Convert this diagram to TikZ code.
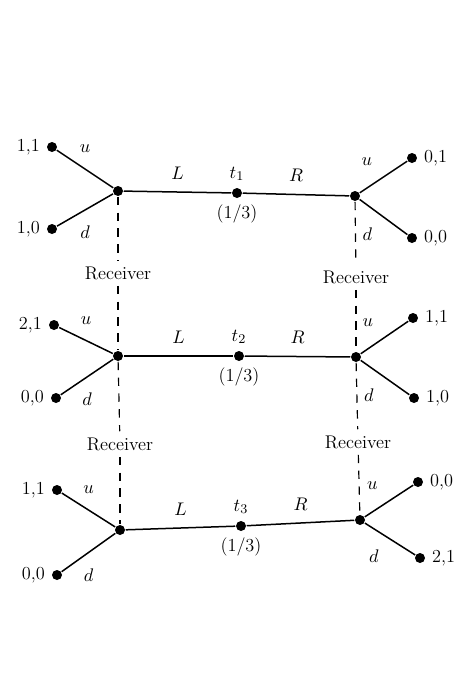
\documentclass[tikz,border=0pt]{standalone}
\begin{document}
\begin{tikzpicture}[x=0.6pt,y=-0.6pt,line width=0.9pt,
    font=\fontsize{11}{13}\selectfont,
    dot/.style={circle,fill,inner sep=0pt,minimum size=6pt},
    info/.style={dashed,line width=0.7pt,dash pattern=on 5pt off 4.5pt}]
  \useasboundingbox (0,0) rectangle (465,700);
  \draw
    (118,191) node[dot] (l1){}
    (237,193) node[dot,label=above:{$t_1$},label=below:{(1/3)}] (t1){}
    (355,196) node[dot] (r1){}
    (118,356) node[dot] (l2){}
    (239,356) node[dot,label=above:{$t_2$},label=below:{(1/3)}] (t2){}
    (356,357) node[dot] (r2){}
    (120,530) node[dot] (l3){}
    (241,526) node[dot,label=above:{$t_3$},label=below:{(1/3)}] (t3){}
    (360,520) node[dot] (r3){};
  \draw
    (52,147) node[dot,label=left:{1,1}] (l1u){}
    (52,229) node[dot,label=left:{1,0}] (l1d){}
    (412,158) node[dot,label=right:{0,1}] (r1u){}
    (412,238) node[dot,label=right:{0,0}] (r1d){}
    (54,325) node[dot,label=left:{2,1}] (l2u){}
    (56,398) node[dot,label=left:{0,0}] (l2d){}
    (413,318) node[dot,label=right:{1,1}] (r2u){}
    (414,398) node[dot,label=right:{1,0}] (r2d){}
    (57,490) node[dot,label=left:{1,1}] (l3u){}
    (57,575) node[dot,label=left:{0,0}] (l3d){}
    (418,482) node[dot,label=right:{0,0}] (r3u){}
    (420,558) node[dot,label=right:{2,1}] (r3d){};
  \draw
    (118,273) node (recl1){Receiver}
    (356,277) node (recr1){Receiver}
    (120,444) node (recl2){Receiver}
    (358,442) node (recr2){Receiver};
  \begin{scope}[-]
    \draw (l1) to node[above=4pt]{$L$} (t1);
    \draw (t1) to node[above=4pt]{$R$} (r1);
    \draw (l2) to node[above=4pt]{$L$} (t2);
    \draw (t2) to node[above=4pt]{$R$} (r2);
    \draw (l3) to node[above=4pt]{$L$} (t3);
    \draw (t3) to node[above=4pt]{$R$} (r3);
    \draw (l1) to node[above=6pt]{$u$} (l1u);
    \draw (l1) to node[below=6pt]{$d$} (l1d);
    \draw (r1) to node[above left=3pt]{$u$} (r1u);
    \draw (r1) to node[below left=3pt]{$d$} (r1d);
    \draw (l2) to node[above=6pt]{$u$} (l2u);
    \draw (l2) to node[below=6pt]{$d$} (l2d);
    \draw (r2) to node[above left=3pt]{$u$} (r2u);
    \draw (r2) to node[below left=3pt]{$d$} (r2d);
    \draw (l3) to node[above=6pt]{$u$} (l3u);
    \draw (l3) to node[below=6pt]{$d$} (l3d);
    \draw (r3) to node[above left=3pt]{$u$} (r3u);
    \draw (r3) to node[below left=3pt]{$d$} (r3d);
  \end{scope}
  \begin{scope}[info]
    \draw (l1) -- (recl1);
    \draw (recl1) -- (l2);
    \draw (l2) -- (recl2);
    \draw (recl2) -- (l3);
    \draw (r1) -- (recr1);
    \draw (recr1) -- (r2);
    \draw (r2) -- (recr2);
    \draw (recr2) -- (r3);
  \end{scope}
\end{tikzpicture}
\end{document}
